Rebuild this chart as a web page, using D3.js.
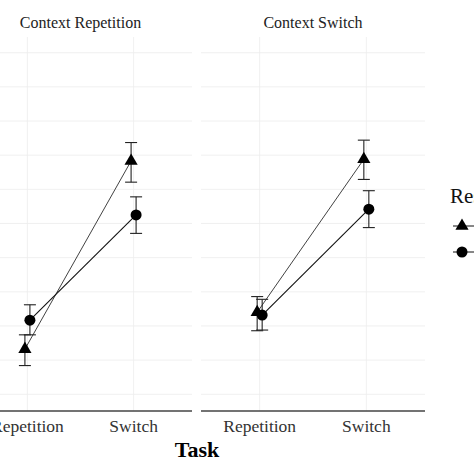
<!DOCTYPE html>
<html><head><meta charset="utf-8">
<script src="https://cdn.jsdelivr.net/npm/d3@7"></script>
<style>body{margin:0;background:#fff}text{font-family:"Liberation Serif",serif}</style>
</head><body><svg id="c" width="474" height="474"></svg>
<script>
// data (arbitrary units)
var panels = ["Context Repetition", "Context Switch"];
var tasks = ["Repetition", "Switch"];
var series = ["tri", "circ"];
// [panel][task] means, lower, upper
var triMean = [[1.32, 6.83], [2.40, 6.88]];
var triLo = [[0.84, 6.21], [1.86, 6.29]];
var triHi = [[1.74, 7.37], [2.86, 7.44]];
var circMean = [[2.17, 5.25], [2.32, 5.42]];
var circLo = [[1.74, 4.71], [1.88, 4.88]];
var circHi = [[2.62, 5.78], [2.78, 5.96]];
var yTicks = d3.range(0, 11);

var svg = d3.select("#c");
var y = d3.scaleLinear().domain([-0.49, 10.46]).range([411, 37]);
var panelX = [[-31, 192], [201, 425]];
var dodge = {tri: -2.5, circ: 2.5};

panels.forEach(function(p, i) {
  var x = d3.scalePoint().domain(tasks).range(panelX[i]).padding(0.55);
  var g = svg.append("g");
  g.selectAll(".h").data(yTicks).enter().append("line")
    .attr("x1", panelX[i][0]).attr("x2", panelX[i][1])
    .attr("y1", d => y(d)).attr("y2", d => y(d))
    .attr("stroke", "#ececec").attr("stroke-width", 0.8);
  g.selectAll(".v").data(tasks).enter().append("line")
    .attr("x1", d => x(d)).attr("x2", d => x(d))
    .attr("y1", 37).attr("y2", 411)
    .attr("stroke", "#ececec").attr("stroke-width", 0.8);
  g.append("line").attr("x1", panelX[i][0]).attr("x2", panelX[i][1])
    .attr("y1", 411).attr("y2", 411).attr("stroke", "#444").attr("stroke-width", 1.6);
  g.selectAll(".tl").data(tasks).enter().append("text")
    .attr("x", d => x(d)).attr("y", 432).attr("text-anchor", "middle")
    .attr("font-size", 17.5).attr("fill", "#333").text(d => d);
  g.append("text").attr("x", (panelX[i][0] + panelX[i][1]) / 2).attr("y", 28)
    .attr("text-anchor", "middle").attr("font-size", 16).attr("fill", "#222").text(p);

  series.forEach(function(s) {
    var m = s == "tri" ? triMean[i] : circMean[i];
    var lo = s == "tri" ? triLo[i] : circLo[i];
    var hi = s == "tri" ? triHi[i] : circHi[i];
    var pts = tasks.map((t, j) => ({x: x(t) + dodge[s], m: m[j], lo: lo[j], hi: hi[j]}));
    g.append("path").datum(pts)
      .attr("d", d3.line().x(d => d.x).y(d => y(d.m)))
      .attr("fill", "none").attr("stroke", "#111").attr("stroke-width", s == "tri" ? 0.8 : 1.1);
    var e = g.selectAll(null).data(pts).enter().append("g").attr("stroke", "#222").attr("stroke-width", 1.1);
    e.append("line").attr("x1", d => d.x).attr("x2", d => d.x).attr("y1", d => y(d.lo)).attr("y2", d => y(d.hi));
    e.append("line").attr("x1", d => d.x - 6).attr("x2", d => d.x + 6).attr("y1", d => y(d.lo)).attr("y2", d => y(d.lo));
    e.append("line").attr("x1", d => d.x - 6).attr("x2", d => d.x + 6).attr("y1", d => y(d.hi)).attr("y2", d => y(d.hi));
    g.selectAll(null).data(pts).enter().append("path")
      .attr("transform", d => "translate(" + d.x + "," + y(d.m) + ")")
      .attr("d", d3.symbol().type(s == "tri" ? d3.symbolTriangle : d3.symbolCircle).size(s == "tri" ? 75 : 95))
      .attr("fill", "#000");
  });
});

svg.append("text").attr("x", 197).attr("y", 457).attr("text-anchor", "middle")
  .attr("font-size", 22).attr("font-weight", "bold").text("Task");
svg.append("text").attr("x", 450).attr("y", 203).attr("font-size", 21).attr("fill", "#111").text("Response");
series.forEach(function(s, k) {
  var yy = 226 + k * 26;
  svg.append("line").attr("x1", 453).attr("x2", 474).attr("y1", yy).attr("y2", yy).attr("stroke", "#111");
  svg.append("path").attr("transform", "translate(462," + yy + ")")
    .attr("d", d3.symbol().type(s == "tri" ? d3.symbolTriangle : d3.symbolCircle).size(s == "tri" ? 75 : 95));
});
</script></body></html>
